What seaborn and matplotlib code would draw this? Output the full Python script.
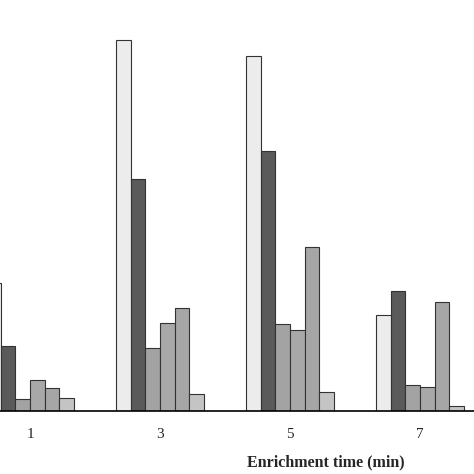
import matplotlib
matplotlib.use("Agg")
import matplotlib.pyplot as plt
import seaborn as sns
import pandas as pd

times = ["1", "3", "5", "7"]
series = ["S1", "S2", "S3", "S4", "S5", "S6"]
values = {
    "S1": [128, 371, 355, 96],
    "S2": [65, 232, 260, 120],
    "S3": [12, 63, 87, 26],
    "S4": [31, 88, 81, 24],
    "S5": [23, 103, 164, 109],
    "S6": [13, 17, 19, 5],
}
colors = ["#ececec", "#5a5a5a", "#a3a3a3", "#a8a8a8", "#a6a6a6", "#c4c4c4"]

rows = [(t, s, values[s][i]) for s in series for i, t in enumerate(times)]
df = pd.DataFrame(rows, columns=["time", "series", "value"])

sns.set_style("white")
plt.rcParams["font.family"] = ["Liberation Serif", "DejaVu Serif"]
fig = plt.figure(figsize=(4.74, 4.74), dpi=100)
ax = fig.add_axes([0, 63/474, 1, 411/474])
sns.barplot(data=df, x="time", y="value", hue="series", palette=colors,
            width=0.67, edgecolor="#333333", linewidth=0.8, ax=ax, legend=False)
ax.set_xlim(-30/130, 444/130)
ax.set_ylim(0, 411)
for s in ["top", "right", "left"]:
    ax.spines[s].set_visible(False)
ax.spines["bottom"].set_linewidth(1.2)
ax.spines["bottom"].set_color("black")
ax.set_yticks([])
ax.set_xlabel("")
ax.set_ylabel("")
ax.tick_params(axis="x", length=0, labelsize=11, pad=12)
fig.text(326/474, 1 - 462/474, "Enrichment time (min)", ha="center", va="center",
         fontsize=11.5, fontweight="bold")
fig.savefig("out.png", dpi=100)
